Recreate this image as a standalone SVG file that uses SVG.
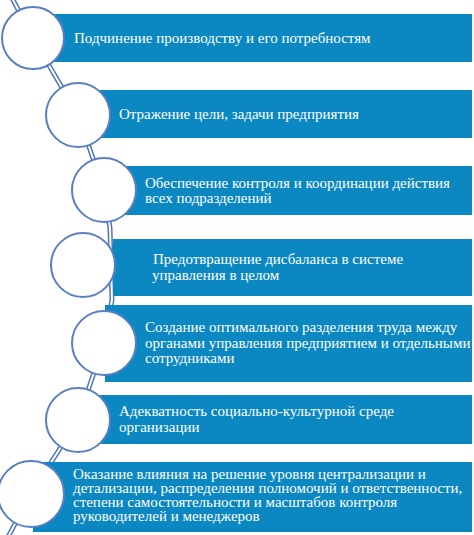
<svg xmlns="http://www.w3.org/2000/svg" width="474" height="535" viewBox="0 0 474 535">
<style>
.bar{fill:#0b87c2}
.c{fill:#fff;stroke:#5a7fc3;stroke-width:2}
.t{font-family:"Liberation Serif","Times New Roman",serif;font-size:15px;fill:#fff}
.lo{fill:none;stroke:#4f76ba;stroke-width:5;stroke-linejoin:round}
.li{fill:none;stroke:#fff;stroke-width:2;stroke-linejoin:round}
</style>
<rect width="474" height="535" fill="#fff"/>
<g id="connectors">
<path class="lo" d="M12 -2 L33 38 L78 115 L104 190 L110 228 L112 300 L104 343 L78 420 L31 494 L8 537"/>
<path class="li" d="M12 -2 L33 38 L78 115 L104 190 L110 228 L112 300 L104 343 L78 420 L31 494 L8 537"/>
</g>
<g id="n1">
<rect class="bar" x="33" y="14" width="439" height="48"/>
<circle class="c" cx="33" cy="38" r="31"/>
<text class="t" x="74" y="43">Подчинение производству и его потребностям</text>
</g>
<g id="n2">
<rect class="bar" x="78" y="90" width="394" height="48"/>
<circle class="c" cx="78" cy="115" r="32"/>
<text class="t" x="119" y="119">Отражение цели, задачи предприятия</text>
</g>
<g id="n3">
<rect class="bar" x="104" y="166" width="368" height="49"/>
<circle class="c" cx="104" cy="190" r="32"/>
<text class="t" x="145" y="188">Обеспечение контроля и координации действия</text>
<text class="t" x="145" y="203">всех подразделений</text>
</g>
<g id="n4">
<rect class="bar" x="113" y="239" width="359" height="57"/>
<circle class="c" cx="83" cy="265" r="32"/>
<text class="t" x="153" y="264">Предотвращение дисбаланса в системе</text>
<text class="t" x="152" y="280">управления в целом</text>
</g>
<g id="n5">
<rect class="bar" x="105" y="305" width="367" height="77"/>
<circle class="c" cx="104" cy="343" r="32"/>
<text class="t" x="145" y="332">Создание оптимального разделения труда между</text>
<text class="t" x="145" y="348">органами управления предприятием и отдельными</text>
<text class="t" x="145" y="363">сотрудниками</text>
</g>
<g id="n6">
<rect class="bar" x="78" y="395" width="394" height="49"/>
<circle class="c" cx="78" cy="420" r="32"/>
<text class="t" x="119" y="416">Адекватность социально-культурной среде</text>
<text class="t" x="119" y="432">организации</text>
</g>
<g id="n7">
<rect class="bar" x="33" y="462" width="439" height="70"/>
<circle class="c" cx="31" cy="494" r="33"/>
<text class="t" x="73" y="479">Оказание влияния на решение уровня централизации и</text>
<text class="t" x="73" y="493">детализации, распределения полномочий и ответственности,</text>
<text class="t" x="73" y="507">степени самостоятельности и масштабов контроля</text>
<text class="t" x="73" y="521">руководителей и менеджеров</text>
</g>
</svg>
